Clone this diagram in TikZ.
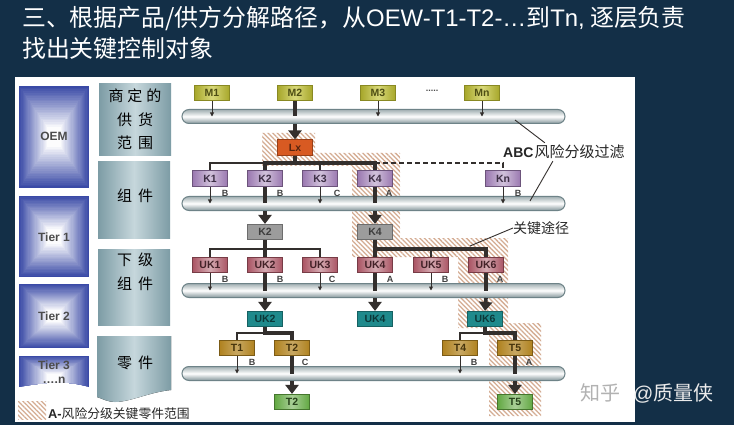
\documentclass[tikz,border=0pt]{standalone}
\usepackage{fontspec}
\setmainfont{Liberation Sans}
\newfontfamily\cjk{Noto Sans CJK SC}
\usetikzlibrary{arrows.meta,patterns.meta,shapes.misc,calc}
\definecolor{bgnavy}{HTML}{132F47}
\definecolor{hatchc}{HTML}{D4AC92}
\definecolor{wire}{HTML}{332F2D}
\definecolor{railedge}{HTML}{6E8388}
\definecolor{bluee}{HTML}{3A4AA6}
\definecolor{colE}{HTML}{7D9CA5}
\definecolor{colM}{HTML}{C6D7DC}
\tikzset{
  x=1pt,y=-1pt,
  hatch/.style={pattern={Lines[angle=-45,distance=3.3pt,line width=1.25pt]},pattern color=hatchc},
  rail/.style={rounded rectangle,draw=railedge,line width=1pt,minimum width=383pt,minimum height=14pt,inner sep=0pt,
     top color=railedge!65,bottom color=railedge!85,middle color=white},
  part/.style={draw=#1!70!black,line width=.6pt,minimum width=35pt,minimum height=15.5pt,inner sep=0pt,
     font=\bfseries\fontsize{10.5}{11}\selectfont,text=#1!40!black},
  mbox/.style={part=mc,left color=mc!85!black,right color=mc!85!black,middle color=mc!65!white},
  kbox/.style={part=kc,left color=kc,right color=kc,middle color=kc!45!white},
  grbox/.style={part=gc,fill=gc},
  ubox/.style={part=uc,left color=uc,right color=uc,middle color=uc!50!white},
  tealbox/.style={part=tc,fill=tc},
  tbox/.style={part=oc,left color=oc,right color=oc,middle color=oc!70!white},
  gnbox/.style={part=nc,left color=nc,right color=nc,middle color=nc!55!white},
  lxbox/.style={part=lc,fill=lc},
  thinw/.style={draw=wire,line width=1.1pt},
  thickw/.style={draw=wire,line width=3.6pt},
  thinarrow/.style={draw=wire,line width=.9pt,-{Triangle[width=4pt,length=4pt]}},
  bigarrow/.style={draw=wire,line width=3.6pt,-{Triangle[width=13pt,length=9pt]}},
  grade/.style={font=\bfseries\fontsize{9}{9}\selectfont,text=black!75,inner sep=0pt},
  tier/.style={font=\bfseries\fontsize{12}{13}\selectfont,text=black!70,inner sep=0pt,align=center},
  side/.style={font=\cjk\fontsize{15}{15}\selectfont,text=black,inner sep=0pt},
  note/.style={font=\cjk\fontsize{14}{14}\selectfont,text=black!85,inner sep=0pt},
  leader/.style={draw=wire,line width=.9pt},
  col/.style={left color=colE,right color=colE,middle color=colM},
  title/.style={font=\fontsize{23.9}{26}\selectfont,text=white,inner sep=0pt,anchor=west},
}
\definecolor{mc}{HTML}{C4C432}
\definecolor{kc}{HTML}{9A78B0}
\definecolor{gc}{HTML}{9C9C9C}
\definecolor{uc}{HTML}{AA5564}
\definecolor{tc}{HTML}{1F8A8C}
\definecolor{oc}{HTML}{B0821F}
\definecolor{nc}{HTML}{62A842}
\definecolor{lc}{HTML}{D85A22}
\newcommand{\bluerect}[4]{%
  \foreach \k in {0,...,24}{%
    \pgfmathsetmacro{\pc}{100-\k*4.1}%
    \pgfmathsetmacro{\dx}{\k/25*(#3-#1)*0.42}%
    \pgfmathsetmacro{\dy}{\k/25*(#4-#2)*0.42}%
    \fill[bluee!\pc!white] ({#1+\dx},{#2+\dy}) rectangle ({#3-\dx},{#4-\dy});
  }}
\begin{document}
\begin{tikzpicture}
\useasboundingbox (0,0) rectangle (734,425);
\fill[bgnavy] (0,0) rectangle (734,425);
\node[title] (t1) at (22,18.5) {\cjk 三、根据产品/供方分解路径，从{\rmfamily OEW-T1-T2-…}到{\rmfamily Tn,} 逐层负责};
\node[title] (t2) at (22,48) {\cjk 找出关键控制对象};
\fill[white] (15,77) rectangle (635,422);

% left tier boxes
\bluerect{19}{86}{89}{188}
\bluerect{19}{196}{89}{277}
\bluerect{19}{284}{89}{348}
\begin{scope}
  \clip (19,356) -- (89,356) -- (89,387) .. controls (70,381) and (50,381) .. (19,387) -- cycle;
  \bluerect{19}{356}{89}{400}
\end{scope}
\node[tier] (oem) at (54,136) {OEM};
\node[tier] (tier1) at (54,237) {Tier 1};
\node[tier] (tier2) at (54,316) {Tier 2};
\node[tier] (tier3) at (54,365) {Tier 3};
\node[tier] (tiern) at (54,380) {….n};

% category column
\fill[col] (99,84) rectangle (171,156);
\fill[col] (98,162) rectangle (170,238);
\fill[col] (98,249) rectangle (170,325);
\fill[col] (97,336) -- (171,336) -- (171,390) .. controls (150,392) and (130,402) .. (115,402) .. controls (108,402) and (103,399) .. (97,397) -- cycle;
\node[side] (s1) at (135,96) {商\hspace{4pt}定\hspace{4pt}的};
\node[side] (s2) at (135,120) {供\hspace{6pt}货};
\node[side] (s3) at (135,143) {范\hspace{6pt}围};
\node[side] (s4) at (135,196) {组\hspace{6pt}件};
\node[side] (s5) at (135,260) {下\hspace{6pt}级};
\node[side] (s6) at (135,284) {组\hspace{6pt}件};
\node[side] (s7) at (135,363) {零\hspace{6pt}件};

% hatched critical areas
\fill[hatch] (262,133) -- (315,133) -- (315,153) -- (400,153) -- (400,238) -- (508,238) -- (508,323) -- (541,323) -- (541,416) -- (489,416) -- (489,328) -- (458,328) -- (458,257) -- (352,257) -- (352,166) -- (262,166) -- cycle;
\fill[hatch] (18,401) rectangle (46,419);

% rails
\node[rail] (R1) at (373.5,116.5) {};
\node[rail] (R2) at (373.5,203.5) {};
\node[rail] (R3) at (373.5,290.5) {};
\node[rail] (R4) at (373.5,373.5) {};

% supplier row
\node[mbox] (M1) at (212,93) {M1};
\node[mbox] (M2) at (295,93) {M2};
\node[mbox] (M3) at (378,93) {M3};
\node[mbox] (Mn) at (482,93) {Mn};
\node[font=\bfseries\fontsize{9}{9}\selectfont,text=black!70,inner sep=0pt] (dots) at (432,91) {.....};
\node[lxbox] (Lx) at (295,147.5) {Lx};

% component row
\node[kbox] (K1) at (210,178.5) {K1};
\node[kbox] (K2) at (265,178.5) {K2};
\node[kbox] (K3) at (320,178.5) {K3};
\node[kbox] (K4) at (375,178.5) {K4};
\node[kbox] (Kn) at (503,178.5) {Kn};
\node[grbox] (K2b) at (265,232) {K2};
\node[grbox] (K4b) at (375,232) {K4};

% sub-component row
\node[ubox] (UK1) at (210,265) {UK1};
\node[ubox] (UK2) at (265,265) {UK2};
\node[ubox] (UK3) at (320,265) {UK3};
\node[ubox] (UK4) at (375,265) {UK4};
\node[ubox] (UK5) at (431,265) {UK5};
\node[ubox] (UK6) at (486,265) {UK6};
\node[tealbox] (UK2b) at (265,319) {UK2};
\node[tealbox] (UK4b) at (375,319) {UK4};
\node[tealbox] (UK6b) at (485,319) {UK6};

% part row
\node[tbox] (T1) at (237,348) {T1};
\node[tbox] (T2) at (292,348) {T2};
\node[tbox] (T4) at (460,348) {T4};
\node[tbox] (T5) at (515,348) {T5};
\node[gnbox] (T2b) at (292,402) {T2};
\node[gnbox] (T5b) at (515,402) {T5};

% bus coordinates
\coordinate (busK) at (295,163);
\coordinate (busA) at (265,249);
\coordinate (busB) at (375,249);
\coordinate (busC) at (265,333);
\coordinate (busD) at (485,333);

% connectors: suppliers
\draw[thinarrow] (M1.south) -- (R1.center -| M1);
\draw[thinarrow] (M3.south) -- (R1.center -| M3);
\draw[thinarrow] (Mn.south) -- (R1.center -| Mn);
\draw[thickw] (M2.south) -- (R1.center -| M2);
\draw[bigarrow] (R1.south -| M2) -- (Lx.north);
% connectors: K level
\draw[thinw] (K1.north) |- (K3.north |- busK) -- (K3.north);
\draw[thickw] (Lx.south) -- (busK);
\draw[thickw] (K2.north) |- (K4.north |- busK) -- (K4.north);
\draw[thinw,dash pattern=on 5pt off 3pt] (K4.north |- busK) -| (Kn.north);
\foreach \n in {K1,K3,Kn}{\draw[thinarrow] (\n.south) -- (R2.center -| \n);}
\foreach \n in {K2,K4}{\draw[thickw] (\n.south) -- (R2.center -| \n);}
\draw[bigarrow] (R2.south -| K2) -- (K2b.north);
\draw[bigarrow] (R2.south -| K4) -- (K4b.north);
% connectors: UK level
\draw[thickw] (K2b.south) -- (UK2.north);
\draw[thinw] (UK1.north) |- (UK3.north |- busA) -- (UK3.north);
\draw[thickw] (K4b.south) -- (UK4.north);
\draw[thickw] (busB) -| (UK6.north);
\draw[thinw] (UK5.north) -- (UK5.north |- busB);
\foreach \n in {UK1,UK3,UK5}{\draw[thinarrow] (\n.south) -- (R3.center -| \n);}
\foreach \n in {UK2,UK4,UK6}{\draw[thickw] (\n.south) -- (R3.center -| \n);}
\draw[bigarrow] (R3.south -| UK2) -- (UK2b.north);
\draw[bigarrow] (R3.south -| UK4) -- (UK4b.north);
\draw[bigarrow] (R3.south -| UK6) -- (UK6b.north);
% connectors: T level
\draw[thickw] (UK2b.south) -- (busC) -| (T2.north);
\draw[thinw] (busC) -| (T1.north);
\draw[thickw] (UK6b.south) -- (busD) -| (T5.north);
\draw[thinw] (busD) -| (T4.north);
\foreach \n in {T1,T4}{\draw[thinarrow] (\n.south) -- (R4.center -| \n);}
\foreach \n in {T2,T5}{\draw[thickw] (\n.south) -- (R4.center -| \n);}
\draw[bigarrow] (R4.south -| T2) -- (T2b.north);
\draw[bigarrow] (R4.south -| T5) -- (T5b.north);

% grade letters
\node[grade] (g1) at (225,193) {B};
\node[grade] (g2) at (280,193) {B};
\node[grade] (g3) at (337,193) {C};
\node[grade] (g4) at (389,193) {A};
\node[grade] (g5) at (518,193) {B};
\node[grade] (g6) at (225,279) {B};
\node[grade] (g7) at (280,279) {B};
\node[grade] (g8) at (332,279) {C};
\node[grade] (g9) at (390,279) {A};
\node[grade] (g10) at (445,279) {B};
\node[grade] (g11) at (500,279) {A};
\node[grade] (g12) at (252,362) {B};
\node[grade] (g13) at (305,362) {C};
\node[grade] (g14) at (474,362) {B};
\node[grade] (g15) at (529,362) {A};

% annotations
\node[note,anchor=west,font=\cjk\fontsize{15}{15}\selectfont] (abc) at (503,152) {{\rmfamily\bfseries\fontsize{14}{14}\selectfont ABC}\hspace{1pt}风险分级过滤};
\coordinate (abcA) at (515,120);
\coordinate (abcB) at (530,201);
\draw[leader] (abcA) -- ($(abc.north)+(-19,-2)$);
\draw[leader] ($(abc.south)+(-11,2)$) -- (abcB);
\node[note,anchor=west] (key) at (513,228) {关键途径};
\coordinate (keyB) at (470,246);
\draw[leader] (key.west) -- (keyB);
\node[note,anchor=west,font=\cjk\fontsize{12.8}{13}\selectfont] (legend) at (48,414) {{\rmfamily\bfseries A-}风险分级关键零件范围};

% watermark
\node[inner sep=0pt,anchor=west,font=\cjk\fontsize{20}{20}\selectfont,text=black!30] (wm1) at (580,393) {知乎};
\node[inner sep=0pt,anchor=west,font=\cjk\fontsize{20}{20}\selectfont,text=white!92!black] (wm2) at (633,393) {{\rmfamily @}质量侠};
\end{tikzpicture}
\end{document}
